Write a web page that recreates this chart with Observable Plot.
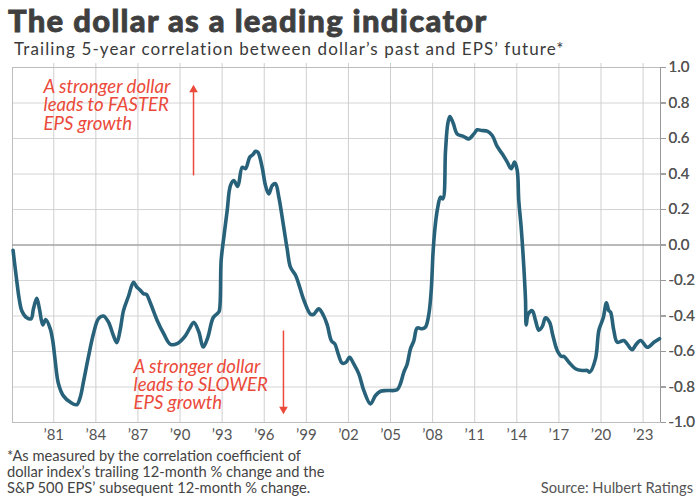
<!DOCTYPE html>
<html>
<head>
<meta charset="utf-8">
<script src="https://cdn.jsdelivr.net/npm/d3@7"></script>
<script src="https://cdn.jsdelivr.net/npm/@observablehq/plot@0.6"></script>
<style>
  body { margin: 0; background: #fff; }
  #wrap { position: relative; width: 700px; height: 497px; overflow: hidden; font-family: Lato, "Open Sans", sans-serif; color: #404040; }
  #title { position: absolute; left: 8px; top: 5px; font-size: 31px; line-height: 31px; font-weight: 900; color: #3f3f3f; letter-spacing: 1.3px; -webkit-text-stroke: 0.8px #3f3f3f; white-space: nowrap; }
  #subtitle { position: absolute; left: 14px; top: 40px; font-size: 17px; line-height: 17px; font-weight: 400; color: #3a3a3a; letter-spacing: 1.1px; white-space: nowrap; }
  #chart { position: absolute; left: 0; top: 58px; }
  #note { position: absolute; left: 7px; top: 447px; font-size: 14.7px; line-height: 16px; color: #444; white-space: nowrap; }
  #source { position: absolute; right: 7px; top: 479px; font-size: 14.7px; line-height: 16px; color: #555; white-space: nowrap; }
</style>
</head>
<body>
<div id="wrap">
  <div id="title">The dollar as a leading indicator</div>
  <div id="subtitle">Trailing 5-year correlation between dollar’s past and EPS’ future*</div>
  <div id="chart"></div>
  <div id="note">*As measured by the correlation coefficient of<br>dollar index’s trailing 12-month % change and the<br>S&amp;P 500 EPS’ subsequent 12-month % change.</div>
  <div id="source">Source: Hulbert Ratings</div>
</div>
<script>
// Trailing 5-year correlation, dollar index vs. subsequent S&P 500 EPS growth
const years = [
  1978.10, 1978.36, 1978.55, 1978.72, 1979.08, 1979.39, 1979.55, 1979.79, 1979.98, 1980.22,
  1980.43, 1980.74, 1980.93, 1981.10, 1981.33, 1981.69, 1982.17, 1982.64, 1982.88, 1983.12,
  1983.47, 1983.83, 1984.19, 1984.54, 1984.90, 1985.25, 1985.49, 1985.73, 1985.97, 1986.32,
  1986.68, 1986.90, 1987.18, 1987.41, 1987.60, 1987.90, 1988.37, 1988.84, 1989.32, 1989.80,
  1990.39, 1990.75, 1990.98, 1991.34, 1991.65, 1991.98, 1992.36, 1992.69, 1992.80, 1992.93,
  1993.12, 1993.36, 1993.59, 1993.83, 1994.11, 1994.43, 1994.66, 1994.97, 1995.20, 1995.38,
  1995.55, 1995.85, 1996.09, 1996.32, 1996.57, 1996.80, 1997.04, 1997.39, 1997.63, 1997.87,
  1998.23, 1998.46, 1998.82, 1999.30, 1999.53, 1999.89, 2000.24, 2000.49, 2000.79, 2001.03,
  2001.27, 2001.56, 2001.84, 2002.08, 2002.38, 2002.74, 2003.10, 2003.57, 2003.93, 2004.29,
  2004.76, 2005.47, 2005.71, 2005.95, 2006.19, 2006.42, 2006.66, 2006.90, 2007.26, 2007.49,
  2007.73, 2007.90, 2008.04, 2008.20, 2008.37, 2008.56, 2008.73, 2008.92, 2009.08, 2009.23,
  2009.47, 2009.75, 2010.22, 2010.58, 2010.94, 2011.18, 2011.50, 2011.89, 2012.25, 2012.60,
  2012.96, 2013.32, 2013.60, 2013.84, 2014.03, 2014.14, 2014.31, 2014.50, 2014.62, 2014.67,
  2014.81, 2015.10, 2015.33, 2015.57, 2015.81, 2016.05, 2016.33, 2016.57, 2016.88, 2017.19,
  2017.35, 2017.71, 2018.18, 2018.66, 2019.02, 2019.20, 2019.61, 2019.85, 2020.16, 2020.39,
  2020.55, 2020.68, 2020.91, 2021.16, 2021.63, 2021.86, 2022.22, 2022.45, 2022.82, 2023.30,
  2023.77, 2024.17
];
const corr = [
  -0.03, -0.20, -0.31, -0.37, -0.41, -0.415, -0.36, -0.30, -0.36, -0.45,
  -0.42, -0.47, -0.54, -0.65, -0.78, -0.85, -0.885, -0.90, -0.86, -0.77,
  -0.63, -0.50, -0.415, -0.40, -0.435, -0.51, -0.55, -0.48, -0.37, -0.29,
  -0.21, -0.235, -0.256, -0.275, -0.278, -0.33, -0.425, -0.50, -0.56, -0.555,
  -0.51, -0.46, -0.435, -0.49, -0.575, -0.52, -0.41, -0.384, -0.37, -0.087,
  0.044, 0.194, 0.335, 0.363, 0.33, 0.438, 0.43, 0.495, 0.51, 0.528,
  0.523, 0.438, 0.335, 0.288, 0.335, 0.345, 0.27, 0.10, -0.02, -0.125,
  -0.17, -0.22, -0.31, -0.39, -0.39, -0.36, -0.40, -0.45, -0.54, -0.557,
  -0.613, -0.666, -0.66, -0.632, -0.67, -0.726, -0.82, -0.895, -0.848, -0.824,
  -0.82, -0.816, -0.78, -0.716, -0.67, -0.585, -0.54, -0.468, -0.472, -0.463,
  -0.39, -0.256, -0.03, 0.12, 0.213, 0.27, 0.26, 0.532, 0.683, 0.724,
  0.686, 0.626, 0.611, 0.598, 0.626, 0.649, 0.645, 0.641, 0.617, 0.555,
  0.514, 0.467, 0.43, 0.467, 0.42, 0.25, 0.10, -0.125, -0.31, -0.45,
  -0.39, -0.37, -0.425, -0.48, -0.46, -0.41, -0.435, -0.51, -0.594, -0.628,
  -0.628, -0.66, -0.697, -0.707, -0.707, -0.716, -0.64, -0.48, -0.41, -0.325,
  -0.369, -0.378, -0.48, -0.548, -0.538, -0.557, -0.59, -0.566, -0.538, -0.576,
  -0.548, -0.528
];
const xTicks = [1981, 1984, 1987, 1990, 1993, 1996, 1999, 2002, 2005, 2008, 2011, 2014, 2017, 2020, 2023];
const yTicks = [-1, -0.8, -0.6, -0.4, -0.2, 0, 0.2, 0.4, 0.6, 0.8, 1];

// Call-out texts and the arrows pointing away from the zero line
const noteText = ["A stronger dollar\nleads to FASTER\nEPS growth", "A stronger dollar\nleads to SLOWER\nEPS growth"];
const noteYear = [1980.27, 1986.68];
const noteValue = [0.786, -0.79];
const arrowYear = [1990.96, 1997.37];
const arrowFrom = [0.392, -0.482];
const arrowTo = [0.875, -0.925];

const series = years.map((year, i) => ({year, value: corr[i]}));
const notes = noteText.map((text, i) => ({text, year: noteYear[i], value: noteValue[i]}));
const arrows = arrowYear.map((year, i) => ({year, from: arrowFrom[i], to: arrowTo[i], up: arrowTo[i] > arrowFrom[i]}));

const red = "#eb4a3b";
const teal = "#27627a";

const chart = Plot.plot({
  width: 700,
  height: 390,
  marginTop: 9,
  marginBottom: 26,
  marginLeft: 12,
  marginRight: 40,
  style: {fontFamily: "Lato, 'Open Sans', sans-serif", fontSize: "15px", color: "#555", background: "#fff"},
  x: {domain: [1978.06, 2024.24], ticks: xTicks, tickFormat: d => "’" + String(d).slice(2), tickSize: 0, tickPadding: 7, label: null},
  y: {domain: [-1, 1], ticks: yTicks, tickFormat: d => d.toFixed(1), axis: "right", tickSize: 5, tickPadding: 3, label: null},
  marks: [
    Plot.ruleY(yTicks, {stroke: "#d4d4d4", strokeWidth: 1}),
    Plot.ruleX(xTicks, {stroke: "#cfcfcf", strokeWidth: 1, insetTop: -4}),
    Plot.frame({stroke: "#bdbdbd", strokeWidth: 1}),
    Plot.ruleY([0], {stroke: "#8a8a8a", strokeWidth: 1.2}),
    Plot.axisY({anchor: "right", ticks: yTicks, tickFormat: d => d.toFixed(1), tickSize: 5, tickPadding: 3, stroke: "#999", color: "#555"}),
    Plot.ruleX([0], {x: () => 2024.24, stroke: "#999"}),
    Plot.line(series, {x: "year", y: "value", stroke: teal, strokeWidth: 3.6, curve: "catmull-rom", strokeLinejoin: "round", strokeLinecap: "round"}),
    Plot.text(notes, {x: "year", y: "value", text: "text", textAnchor: "start", lineAnchor: "middle", lineHeight: 0.98, fill: red, fontSize: 18.6, fontStyle: "italic"}),
    Plot.link(arrows, {x1: "year", x2: "year", y1: "from", y2: "to", stroke: red, strokeWidth: 1.5}),
    Plot.dot(arrows, {x: "year", y: "to", symbol: "triangle", r: 3.2, fill: red, stroke: null, rotate: d => d.up ? 0 : 180})
  ]
});
document.getElementById("chart").appendChild(chart);
</script>
</body>
</html>
